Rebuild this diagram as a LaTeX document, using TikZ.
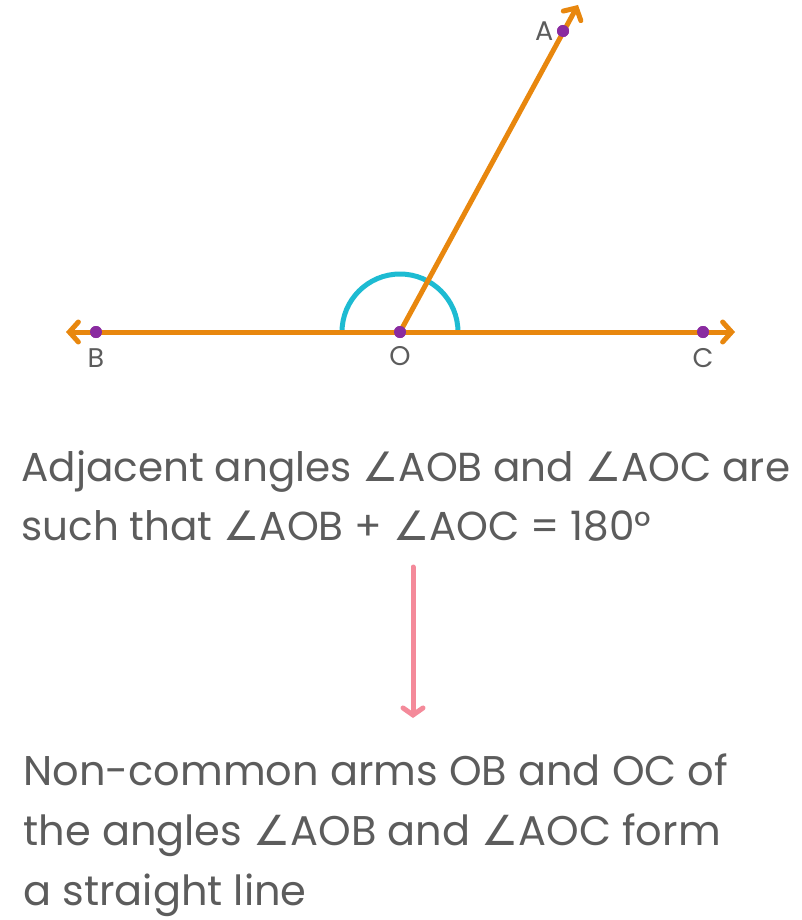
\documentclass[tikz,border=0pt]{standalone}
\usepackage{fontspec}
\setmainfont{Poppins}
\newfontfamily\symfont{DejaVu Sans}
\usetikzlibrary{arrows.meta}
\definecolor{armorange}{HTML}{E8870E}
\definecolor{dotpurple}{HTML}{8A2BA0}
\definecolor{arccyan}{HTML}{1DBBD2}
\definecolor{textgray}{HTML}{5C5C5C}
\definecolor{arrowpink}{HTML}{F48A9A}
\newcommand{\ang}{{\symfont\char"2220}}

\begin{document}
\begin{tikzpicture}[x=1pt, y=-1pt]

                \tikzstyle{vertex}  = [circle, minimum width=12pt, inner sep=0pt, fill=dotpurple]
                \tikzstyle{arm}     = [armorange, line width=5pt, -{Straight Barb[length=9pt, width=20pt, line width=5pt, line cap=round]}]
                \tikzstyle{ptlabel} = [textgray, font=\fontsize{27}{28}\selectfont, label distance=7pt]
                \tikzstyle{caption} = [textgray, anchor=base west, align=left, font=\fontsize{40.5}{59}\selectfont]
                \useasboundingbox (0, 0) rectangle (802, 920);
                \node [vertex, label={[ptlabel]below:B}](B) at (96, 332) {};
                \node [vertex, label={[ptlabel, label distance=5pt]below:O}](O) at (400, 332) {};
                \node [vertex, label={[ptlabel]below:C}](C) at (703, 332) {};
                \node [vertex, label={[ptlabel, label distance=0pt]left:A}](A) at (563, 31) {};
                \coordinate (b) at (66, 332);
                \coordinate (c) at (735, 332);
                \coordinate (a) at (578, 5);
                \draw [arccyan, line width=5pt] (458, 332) arc (0:-180:58);
                \draw [arm] (O.center) -- (b);
                \draw [arm] (O.center) -- (c);
                \draw [arm] (O.center) -- (a);
                \foreach \p in {A, B, C, O}
                    \node [vertex] at (\p) {};
                \node [caption](top) at (18, 540) {Adjacent angles \ang AOB and \ang AOC are\\such that \ang AOB + \ang AOC = 180\textdegree};
                \node [caption, font=\fontsize{41.5}{60}\selectfont](bottom) at (20, 905) {Non-common arms OB and OC of\\the angles \ang AOB and \ang AOC form\\a straight line};
                \coordinate (p) at (413, 567);
                \coordinate (q) at (413, 718);
                \draw [arrowpink, line width=5pt, line cap=round, -{Straight Barb[length=7pt, width=20pt, line width=5pt, line cap=round]}] (p) -- (q);
\end{tikzpicture}
\end{document}
